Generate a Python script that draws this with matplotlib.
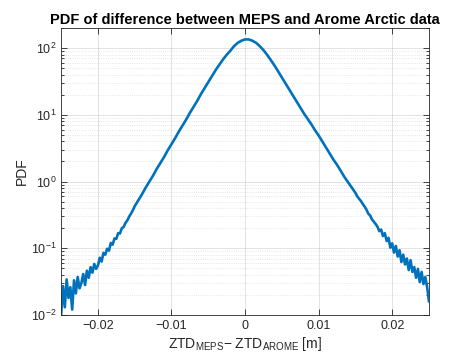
import numpy as np
import matplotlib
matplotlib.use("Agg")
import matplotlib.pyplot as plt
from matplotlib.ticker import LogLocator, FixedLocator

plt.rcParams["font.family"] = ["Liberation Sans", "DejaVu Sans"]
plt.rcParams["mathtext.fontset"] = "custom"
plt.rcParams["mathtext.rm"] = "Liberation Sans"

# bin centres: noisy tails sampled finer than the core
x_left = np.linspace(-0.025, -0.01525, 40)
x_core = np.linspace(-0.015, 0.015, 61)
x_right = np.linspace(0.01525, 0.025, 40)

# PDF values
pdf_left = [0.010, 0.027, 0.013, 0.034, 0.018, 0.026, 0.012, 0.033, 0.021, 0.037,
            0.025, 0.030, 0.041, 0.028, 0.046, 0.036, 0.052, 0.043, 0.058, 0.049,
            0.055, 0.072, 0.063, 0.085, 0.080, 0.098, 0.092, 0.120, 0.113, 0.140,
            0.138, 0.168, 0.166, 0.200, 0.208, 0.240, 0.262, 0.298, 0.330, 0.372]
pdf_core = [0.427, 0.525, 0.646, 0.813, 1.00, 1.23, 1.55, 1.91, 2.34, 2.95,
            3.63, 4.47, 5.62, 6.92, 8.51, 10.7, 13.2, 16.2, 20.4, 25.1,
            30.9, 38.0, 46.8, 56.2, 67.6, 79.4, 91.2, 107, 120, 129,
            135, 135, 129, 120, 107, 93.3, 79.4, 66.1, 55.0, 44.7,
            36.3, 29.5, 24.0, 19.5, 15.8, 12.9, 10.5, 8.71, 7.24, 5.89,
            4.90, 3.98, 3.24, 2.63, 2.14, 1.78, 1.45, 1.17, 0.977, 0.813,
            0.676]
pdf_right = [0.60, 0.55, 0.51, 0.46, 0.42, 0.38, 0.33, 0.31, 0.27, 0.25,
             0.23, 0.21, 0.18, 0.19, 0.152, 0.168, 0.128, 0.143, 0.102, 0.118,
             0.086, 0.108, 0.075, 0.093, 0.062, 0.080, 0.057, 0.070, 0.047, 0.066,
             0.044, 0.052, 0.036, 0.049, 0.031, 0.044, 0.029, 0.037, 0.026, 0.016]

xticks = [-0.02, -0.01, 0, 0.01, 0.02]
xtick_labels = ["\u22120.02", "\u22120.01", "0", "0.01", "0.02"]

x = np.concatenate([x_left, x_core, x_right])
pdf = np.concatenate([pdf_left, pdf_core, pdf_right])

axc = "#262626"
fig = plt.figure(figsize=(4.74, 3.55), dpi=100)
ax = fig.add_axes([0.129, 0.113, 0.776, 0.808])

ax.plot(x, pdf, color="#0072BD", lw=1.9)
ax.set_yscale("log")
ax.set_xlim(-0.025, 0.025)
ax.set_ylim(1e-2, 200)

ax.xaxis.set_major_locator(FixedLocator(xticks))
ax.set_xticklabels(xtick_labels)
ax.yaxis.set_major_locator(LogLocator(base=10, numticks=10))
ax.yaxis.set_minor_locator(LogLocator(base=10, subs=np.arange(2, 10), numticks=20))

ax.grid(True, which="major", color=axc, alpha=0.15, lw=0.6)
ax.grid(True, which="minor", axis="y", color=axc, alpha=0.15, lw=0.6, ls=":")

ax.tick_params(which="both", direction="in", top=True, right=True,
               colors=axc, labelsize=9, width=0.6)
ax.tick_params(which="major", length=4)
ax.tick_params(which="minor", length=2)
for s in ax.spines.values():
    s.set_color(axc)
    s.set_linewidth(0.6)

ax.set_title("PDF of difference between MEPS and Arome Arctic data",
             fontsize=10.5, fontweight="bold", color="black", pad=3)
ax.set_xlabel(r"ZTD$_{\mathrm{MEPS}}$$-$ ZTD$_{\mathrm{AROME}}$ [m]",
              fontsize=10, color=axc, labelpad=2.5)
ax.set_ylabel("PDF", fontsize=10, color=axc, labelpad=1.5)

fig.savefig("out.png", dpi=100)
